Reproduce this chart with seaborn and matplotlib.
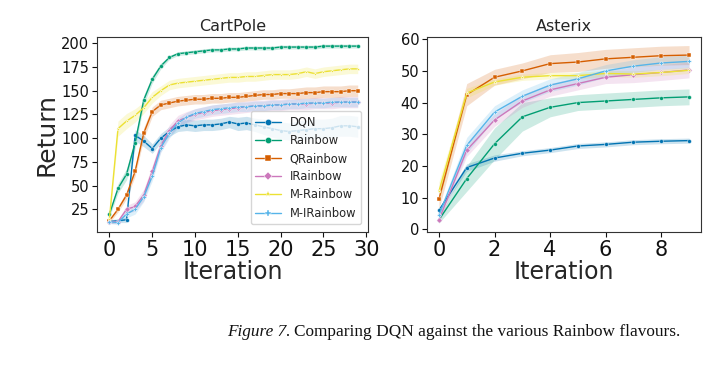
import numpy as np
import pandas as pd
import matplotlib
matplotlib.use("Agg")
import matplotlib.pyplot as plt
import seaborn as sns

series = ["DQN", "Rainbow", "QRainbow", "IRainbow", "M-Rainbow", "M-IRainbow"]
colors = ["#0173b2", "#029e73", "#d55e00", "#cc78bc", "#ece133", "#56b4e9"]
markers = ["o", "o", "s", "D", "*", "P"]

# CartPole (iterations 0..29)
cp_iter = list(range(30))
cp_dqn = [12, 13, 14, 103, 97, 89, 100, 107, 112, 114, 113, 114, 114, 115, 117, 115, 116, 114, 112, 110,
          108, 107, 108, 109, 110, 110, 111, 113, 113, 112]
cp_rainbow = [20, 47, 62, 95, 140, 162, 176, 185, 189, 190, 191, 192, 193, 193, 194, 194, 195, 195, 195, 195,
              196, 196, 196, 196, 196, 197, 197, 197, 197, 197]
cp_qrainbow = [13, 25, 40, 65, 105, 128, 135, 137, 139, 140, 141, 141, 142, 142, 143, 143, 144, 145, 146, 146,
               147, 147, 147, 148, 148, 149, 149, 149, 150, 150]
cp_irainbow = [12, 12, 25, 28, 40, 65, 92, 108, 118, 122, 125, 127, 129, 130, 131, 132, 133, 134, 134, 135,
               135, 136, 136, 136, 137, 137, 137, 138, 138, 138]
cp_mrainbow = [15, 110, 118, 124, 132, 143, 150, 156, 158, 159, 160, 161, 162, 163, 164, 164, 165, 165, 166, 167,
               167, 167, 168, 170, 168, 170, 171, 172, 173, 173]
cp_mirainbow = [12, 11, 20, 25, 38, 60, 90, 105, 116, 122, 126, 128, 130, 131, 132, 133, 133, 134, 134, 135,
                135, 136, 136, 137, 137, 137, 138, 138, 138, 138]

cp_dqn_band = [2, 2, 3, 6, 6, 5, 5, 5, 5, 6, 6, 6, 6, 6, 6, 7, 7, 7, 8, 9, 9, 9, 10, 10, 10, 10, 10, 11, 11, 11]
cp_rainbow_band = [3, 5, 6, 6, 5, 4, 3, 2, 2, 2, 2, 2, 2, 2, 2, 2, 2, 2, 2, 2, 2, 2, 2, 2, 2, 2, 2, 2, 2, 2]
cp_qrainbow_band = [2, 3, 4, 5, 6, 5, 5, 5, 5, 5, 5, 5, 5, 5, 5, 5, 5, 5, 5, 5, 5, 5, 6, 6, 6, 6, 6, 6, 6, 6]
cp_irainbow_band = [2, 2, 4, 5, 6, 6, 6, 6, 6, 6, 6, 6, 6, 6, 6, 6, 6, 6, 6, 6, 6, 6, 6, 6, 6, 6, 6, 6, 6, 6]
cp_mrainbow_band = [3, 8, 8, 7, 6, 6, 5, 5, 5, 5, 5, 5, 5, 5, 5, 5, 5, 5, 5, 5, 5, 5, 5, 5, 5, 5, 5, 5, 5, 5]
cp_mirainbow_band = [2, 2, 4, 5, 5, 5, 5, 5, 5, 5, 5, 5, 5, 5, 5, 5, 5, 5, 5, 5, 5, 5, 5, 5, 5, 5, 5, 5, 5, 5]

# Asterix (iterations 0..9)
as_iter = list(range(10))
as_dqn = [6, 19.5, 22.5, 24, 25, 26.3, 26.8, 27.5, 27.8, 28]
as_rainbow = [3, 16, 27, 35.5, 38.5, 40, 40.5, 41, 41.5, 41.8]
as_qrainbow = [9.5, 42.5, 48, 50, 52.3, 52.8, 53.8, 54.3, 54.8, 55]
as_irainbow = [3, 25, 34.5, 40.5, 44, 46, 48, 48.8, 49.5, 50.3]
as_mrainbow = [12, 43, 46.5, 48, 48.5, 48.5, 49.2, 49, 49.5, 50.2]
as_mirainbow = [4.5, 26.5, 37, 42, 45.5, 47.5, 50, 51.5, 52.5, 53]

as_dqn_band = [0.8, 1.2, 1, 0.8, 0.8, 0.8, 0.8, 0.8, 0.8, 0.8]
as_rainbow_band = [1, 4, 5, 4.5, 3, 2.5, 2.5, 2.5, 2.5, 2.5]
as_qrainbow_band = [3, 3.5, 2.5, 2.5, 2.8, 3, 3, 3, 3, 3]
as_irainbow_band = [1, 2, 2, 2, 2, 2, 2, 2.5, 2.5, 2.5]
as_mrainbow_band = [3, 1.5, 1, 1, 1, 1, 1, 1, 1, 1]
as_mirainbow_band = [1, 2.5, 2, 2, 2, 2, 2, 2, 2, 2]

cp_means = [cp_dqn, cp_rainbow, cp_qrainbow, cp_irainbow, cp_mrainbow, cp_mirainbow]
cp_bands = [cp_dqn_band, cp_rainbow_band, cp_qrainbow_band, cp_irainbow_band, cp_mrainbow_band, cp_mirainbow_band]
as_means = [as_dqn, as_rainbow, as_qrainbow, as_irainbow, as_mrainbow, as_mirainbow]
as_bands = [as_dqn_band, as_rainbow_band, as_qrainbow_band, as_irainbow_band, as_mrainbow_band, as_mirainbow_band]

sns.set_theme(style="ticks")
plt.rcParams["font.family"] = ["DejaVu Sans"]

fig = plt.figure(figsize=(7.13, 3.82), dpi=100)
ax1 = fig.add_axes([97 / 713, 1 - 232 / 382, 271 / 713, 195 / 382])
ax2 = fig.add_axes([427 / 713, 1 - 232 / 382, 274 / 713, 195 / 382])


def draw(ax, iters, means, bands, legend):
    rows = []
    for name, m in zip(series, means):
        for i, v in zip(iters, m):
            rows.append({"Iteration": i, "Return": v, "Method": name})
    df = pd.DataFrame(rows)
    sns.lineplot(data=df, x="Iteration", y="Return", hue="Method", style="Method",
                 hue_order=series, style_order=series, palette=colors,
                 markers=markers, dashes=False, markersize=2.8, linewidth=1.0,
                 markeredgewidth=0.3, ax=ax, legend=legend)
    for m, b, c in zip(means, bands, colors):
        m = np.array(m, float)
        b = np.array(b, float)
        ax.fill_between(iters, m - b, m + b, color=c, alpha=0.2, linewidth=0)
    for sp in ax.spines.values():
        sp.set_color("#333333")
        sp.set_linewidth(0.8)


draw(ax1, cp_iter, cp_means, cp_bands, True)
draw(ax2, as_iter, as_means, as_bands, False)

ax1.set_xlim(-1.45, 30.2)
ax1.set_ylim(1.1, 206.6)
ax1.set_xticks([0, 5, 10, 15, 20, 25, 30])
ax1.set_yticks([25, 50, 75, 100, 125, 150, 175, 200])
ax2.set_xlim(-0.43, 9.43)
ax2.set_ylim(-0.85, 60.7)
ax2.set_xticks([0, 2, 4, 6, 8])
ax2.set_yticks([0, 10, 20, 30, 40, 50, 60])

ax1.set_title("CartPole", fontsize=11.5, pad=4)
ax2.set_title("Asterix", fontsize=11.5, pad=4)
ax1.set_ylabel("Return", fontsize=18, labelpad=2)
ax2.set_ylabel("")
for ax in (ax1, ax2):
    ax.set_xlabel("Iteration", fontsize=17, labelpad=0)
    ax.tick_params(axis="x", labelsize=15, length=3.5, width=0.8, pad=2, colors="#111111")
    ax.tick_params(axis="y", labelsize=10.5, length=3.5, width=0.8, pad=2, colors="#111111")

leg = ax1.legend(loc="lower right", fontsize=8.3, frameon=True, labelspacing=0.45,
                 handlelength=2.2, borderpad=0.4, bbox_to_anchor=(0.995, 0.01))
leg.get_frame().set_edgecolor("#cccccc")
for h in leg.legend_handles:
    h.set_markersize(4.5)

# Caption: italic "Figure 7." followed by upright text, fitted to the reference span
cap_x0, cap_x1, cap_y = 227, 680, 1 - 336 / 382
fs = 14.0
fig.canvas.draw()
r = fig.canvas.get_renderer()
for _ in range(2):
    t1 = fig.text(cap_x0 / 713, cap_y, "Figure 7.", fontsize=fs, family="Liberation Serif",
                  style="italic", color="#111111")
    bb = t1.get_window_extent(r)
    gap = fs * 0.3
    t2 = fig.text((bb.x1 + gap) / 713, cap_y,
                  "Comparing DQN against the various Rainbow flavours.", fontsize=fs,
                  family="Liberation Serif", color="#111111")
    bb2 = t2.get_window_extent(r)
    total = bb2.x1 - bb.x0
    if abs(total - (cap_x1 - cap_x0)) < 2:
        break
    t1.remove()
    t2.remove()
    fs = fs * (cap_x1 - cap_x0) / total

fig.savefig("out.png", dpi=100)
